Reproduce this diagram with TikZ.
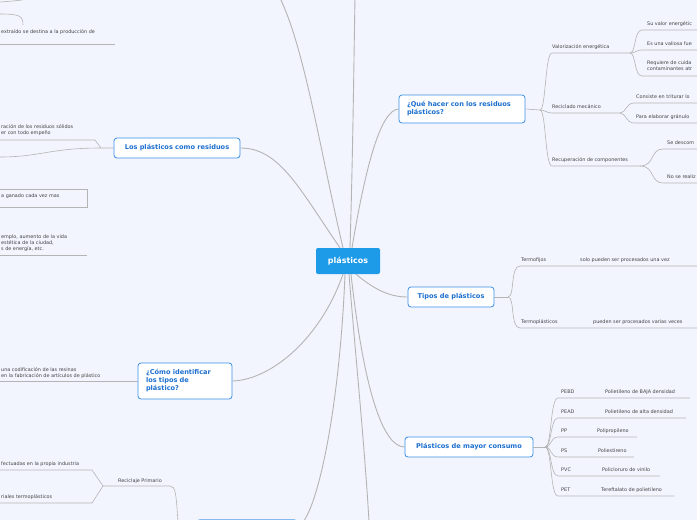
\documentclass[tikz,border=0pt]{standalone}
\usepackage{fontspec}
\setmainfont{DejaVu Sans}
\definecolor{bg}{HTML}{F2F5FE}
\definecolor{mainblue}{HTML}{1E9BE8}
\definecolor{bordblue}{HTML}{3B8EE6}
\definecolor{txtblue}{HTML}{1C6FD0}
\definecolor{ln}{HTML}{B4B4B4}
\definecolor{lt}{HTML}{444444}
\begin{document}
\begin{tikzpicture}[x=1pt,y=-1pt,
  conn/.style={draw=ln,line width=0.9pt},
  thin/.style={draw=ln,line width=0.6pt},
  leaf/.style={anchor=west,inner sep=0pt,font=\fontsize{4.9}{6}\selectfont,text=lt,align=left},
  branch/.style={draw=bordblue,line width=0.8pt,fill=white,rounded corners=3pt,font=\bfseries\fontsize{6.6}{8}\selectfont,text=txtblue,align=left,inner sep=0pt}]
\fill[bg] (0,0) rectangle (697,520);
\useasboundingbox (0,0) rectangle (697,520);
\begin{scope}
\clip (0,0) rectangle (697,520);
\node[fill=mainblue,rounded corners=2pt,minimum width=64pt,minimum height=26pt,text=white,font=\bfseries\fontsize{8}{9}\selectfont] (c) at (348,261) {plásticos};
\coordinate (tl) at (280,-2);
\coordinate (tt) at (355,-2);
\coordinate (bl) at (303,522);
\coordinate (bb) at (369,522);
\node[branch,minimum width=126pt,minimum height=20pt] (r1) at (177,148) {Los plásticos como residuos};
\node[branch,minimum width=126pt,minimum height=28pt,text width=110pt] (q) at (462,109) {¿Qué hacer con los residuos\\ plásticos?};
\node[branch,minimum width=86pt,minimum height=20pt] (t) at (451,297) {Tipos de plásticos};
\node[branch,minimum width=128pt,minimum height=20pt] (m) at (469,447) {Plásticos de mayor consumo};
\node[branch,minimum width=94pt,minimum height=36pt,text width=78pt] (ci) at (185,381) {¿Cómo identificar\\los tipos de\\plástico?};
\draw[draw=bordblue!60,line width=0.8pt,fill=white,rounded corners=3pt] (197,519.5) rectangle (297,540);
\draw[conn] (c.north) ++(-5,0) .. controls (320,150) and (305,50) .. (tl);
\draw[conn] (c.north) ++(2,0) .. controls (353,150) and (354,50) .. (tt);
\draw[conn] (c.north) ++(-8,0) .. controls (300,190) and (280,148) .. (r1.east);
\draw[conn] (c.north) ++(4,0) .. controls (365,170) and (380,110) .. (q.west);
\draw[conn] (c.south) ++(8,0) .. controls (375,290) and (390,297) .. (t.west);
\draw[conn] (c.south) ++(3,0) .. controls (365,400) and (385,447) .. (m.west);
\draw[conn] (c.south) ++(-5,0) .. controls (320,340) and (270,380) .. (ci.east);
\draw[conn] (c.south) ++(-3,0) .. controls (340,400) and (320,500) .. (bl);
\draw[conn] (c.south) ++(1,0) .. controls (355,350) and (365,450) .. (bb);
% left side leaves
\draw[thin] (0,2) .. controls (15,1) and (25,0) .. (30,-2);
\draw[thin] (0,14) .. controls (20,14) and (23,16) .. (23,25);
\node[leaf] at (1,32) {extraído se destina a la producción de};
\draw[thin] (0,44) -- (115,44);
\node[leaf] at (1,130) {ración de los residuos sólidos\\er con todo empeño};
\draw[thin] (0,140) -- (95,140) -- (101,148) -- (r1.west);
\draw[thin] (0,157) .. controls (40,157) and (50,148) .. (101,148);
\draw[thin] (0,189) -- (87,189) -- (87,207) -- (0,207);
\node[leaf] at (1,196) {a ganado cada vez mas};
\node[leaf] at (1,243) {emplo, aumento de la vida\\estética de la ciudad,\\s de energía, etc.};
\draw[thin] (0,255) -- (87,255);
\node[leaf] at (1,373) {una codificación de las resinas\\en la fabricación de artículos de plástico};
\draw[thin] (0,381) -- (ci.west);
\node[leaf] at (1,464) {fectuadas en la propia industria};
\node[leaf] at (1,497) {riales termoplásticos};
\node[leaf] (rp) at (118,481) {Reciclaje Primario};
\draw[thin] (0,470) -- (92,470) -- (103,486);
\draw[thin] (0,503) -- (92,503) -- (103,486) -- (170,486) .. controls (176,486) and (176,495) .. (178,522);
% Qué hacer children
\node[leaf] at (552,47) {Valorización energética};
\node[leaf] at (552,107) {Reciclado mecánico};
\node[leaf] at (552,160) {Recuperación de componentes};
\draw[thin] (q.east) -- (540,110);
\draw[thin] (540,110) .. controls (546,110) and (545,53) .. (552,53) -- (630,53);
\draw[thin] (540,110) .. controls (546,110) and (546,113) .. (552,113) -- (620,113);
\draw[thin] (540,110) .. controls (546,110) and (545,166) .. (552,166) -- (640,166);
\node[leaf] at (647,24) {Su valor energétic};
\node[leaf] at (647,44) {Es una valiosa fue};
\node[leaf] at (647,66) {Requiere de cuida\\contaminantes atr};
\draw[thin] (630,53) .. controls (636,53) and (634,30) .. (642,30) -- (697,30);
\draw[thin] (630,53) .. controls (636,53) and (636,50) .. (642,50) -- (697,50);
\draw[thin] (630,53) .. controls (636,53) and (634,76) .. (642,76) -- (697,76);
\node[leaf] at (636,97) {Consiste en triturar lo};
\node[leaf] at (636,117) {Para elaborar gránulo};
\draw[thin] (620,113) .. controls (626,113) and (626,103) .. (634,103) -- (697,103);
\draw[thin] (620,113) .. controls (626,113) and (626,123) .. (634,123) -- (697,123);
\node[leaf] at (667,143) {Se descom};
\node[leaf] at (667,177) {No se realiz};
\draw[thin] (640,166) .. controls (655,166) and (650,149) .. (663,149) -- (697,149);
\draw[thin] (640,166) .. controls (655,166) and (650,183) .. (663,183) -- (697,183);
% Tipos
\draw[thin] (t.east) -- (508,297);
\node[leaf] at (521,260) {Termofijos};
\node[leaf] at (580,260) {solo pueden ser procesados una vez};
\node[leaf] at (521,322) {Termoplásticos};
\node[leaf] at (593,322) {pueden ser procesados varias veces};
\draw[thin] (508,297) .. controls (515,297) and (510,266) .. (520,266) -- (697,266);
\draw[thin] (508,297) .. controls (515,297) and (510,328) .. (520,328) -- (697,328);
% Mayor consumo
\draw[thin] (m.east) -- (545,447);
\foreach \y/\a/\b/\bx/\e in {392/PEBD/Polietileno de BAJA densidad/605/690, 412/PEAD/Polietileno de alta densidad/605/686, 431/PP/Polipropileno/597/637, 451/PS/Poliestireno/598/634, 470/PVC/Policloruro de vinilo/602/660, 490/PET/Tereftalato de polietileno/601/674}{
  \node[leaf] at (561,\y) {\a};
  \node[leaf] at (\bx,\y) {\b};
  \draw[thin] (545,447) .. controls (552,447) and (550,\y+6) .. (558,\y+6) -- (\e,\y+6);
}
\end{scope}
\end{tikzpicture}
\end{document}
